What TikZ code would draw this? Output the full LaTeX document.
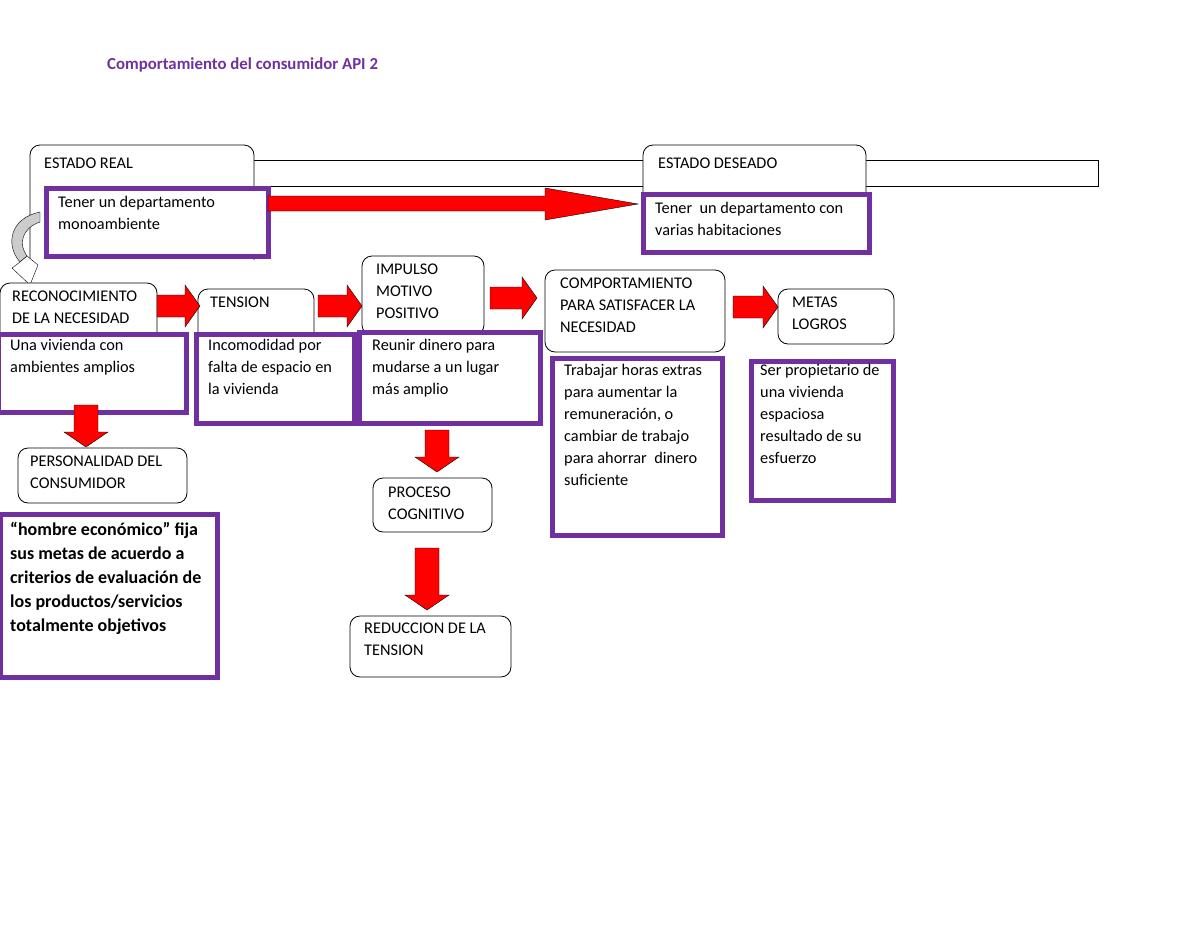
\documentclass[tikz,border=0pt]{standalone}
\usepackage{fontspec}
\setmainfont{Carlito}
\usetikzlibrary{shapes.arrows}
\definecolor{pur}{HTML}{7030A0}
\begin{document}
\begin{tikzpicture}[x=1pt,y=-1pt,
 rb/.style={draw,thick,rounded corners=10pt,fill=white},
 pb/.style={draw=pur,line width=5pt,fill=white},
 t/.style={font=\fontsize{16.3}{22}\selectfont,align=left,anchor=north west,inner sep=0},
 ra/.style={fill=red,draw=black,thin}]
\useasboundingbox (0,0) rectangle (1200,927);
\node[t,text=pur,font=\fontsize{16.8}{20}\selectfont\bfseries] (title) at (107,58) {Comportamiento del consumidor API 2};
% long bar
\draw[thick,fill=white] (250,160) rectangle (1098,186);
% estado real
\draw[rb] (30,260) -- (30,145) -- (254,145) -- (254,260);
\node[t] (er) at (44,158) {ESTADO REAL};
\draw[rb] (643,240) -- (643,145) -- (866,145) -- (866,240);
\node[t] (ed) at (658,158) {ESTADO DESEADO};
\draw[pb] (46,188) rectangle (268,256);
\node[t] (erp) at (58,196) {Tener un departamento\\monoambiente};
\draw[pb] (643,194) rectangle (869,252);
\node[t] (edp) at (655,202) {Tener \ un departamento con\\varias habitaciones};
% big red arrow
\draw[ra] (268,196) -- (545,196) -- (545,188) -- (638,204) -- (545,220) -- (545,211) -- (268,211) -- cycle;
% curved gray arrow
\draw[thin,fill=gray!40] (40,212) .. controls (10,218) and (5,245) .. (20,262) -- (27,256) .. controls (18,244) and (22,228) .. (40,222) -- cycle;
\draw[thin,fill=white] (20,262) -- (12,268) -- (30,285) -- (38,265) -- (27,256) -- cycle;
% row boxes
\draw[rb] (0,283) rectangle (157,345);
\node[t] (rn) at (12,291) {RECONOCIMIENTO\\DE LA NECESIDAD};
\draw[rb] (198,289) rectangle (314,345);
\node[t] (tn) at (210,297) {TENSION};
\draw[rb] (362,256) rectangle (484,335);
\node[t] (im) at (376,264) {IMPULSO\\MOTIVO\\POSITIVO};
\draw[rb] (545,270) rectangle (725,352);
\node[t] (cp) at (560,278) {COMPORTAMIENTO\\PARA SATISFACER LA\\NECESIDAD};
\draw[rb] (778,289) rectangle (894,344);
\node[t] (mt) at (792,297) {METAS\\LOGROS};
% purple boxes
\draw[pb] (-2,334) rectangle (186,412);
\node[t] (rnp) at (10,339) {Una vivienda con\\ambientes amplios};
\draw[pb] (196,334) rectangle (354,423);
\node[t] (tnp) at (208,339) {Incomodidad por\\falta de espacio en\\la vivienda};
\draw[pb] (359,332) rectangle (540,423);
\node[t] (imp) at (372,339) {Reunir dinero para\\mudarse a un lugar\\más amplio};
\draw[pb] (552,358) rectangle (722,535);
\node[t] (cpp) at (564,364) {Trabajar horas extras\\para aumentar la\\remuneración, o\\cambiar de trabajo\\para ahorrar \ dinero\\suficiente};
\draw[pb] (751,361) rectangle (893,500);
\node[t] (mtp) at (760,364) {Ser propietario de\\una vivienda\\espaciosa\\resultado de su\\esfuerzo};
% horizontal red arrows
\foreach \a/\b/\y in {157/200/306, 318/362/306, 490/537/298, 733/778/307}{
 \draw[ra] (\a,\y-11) -- (\b-15,\y-11) -- (\b-15,\y-21) -- (\b,\y) -- (\b-15,\y+21) -- (\b-15,\y+11) -- (\a,\y+11) -- cycle;}
% down arrows
\foreach \x/\a/\b in {86/405/447, 437/430/472, 427/548/610}{
 \draw[ra] (\x-12,\a) -- (\x+12,\a) -- (\x+12,\b-15) -- (\x+22,\b-15) -- (\x,\b) -- (\x-22,\b-15) -- (\x-12,\b-15) -- cycle;}
\draw[rb] (18,448) rectangle (187,503);
\node[t] (ps) at (30,456) {PERSONALIDAD DEL\\CONSUMIDOR};
\draw[pb] (0,514) rectangle (217,677);
\node[t,font=\fontsize{18}{24}\selectfont\bfseries] (psp) at (10,522) {“hombre económico” fija\\sus metas de acuerdo a\\criterios de evaluación de\\los productos/servicios\\totalmente objetivos};
\draw[rb] (373,478) rectangle (492,532);
\node[t] (pc) at (388,487) {PROCESO\\COGNITIVO};
\draw[rb] (350,616) rectangle (511,677);
\node[t] (rd) at (364,623) {REDUCCION DE LA\\TENSION};
\end{tikzpicture}
\end{document}
